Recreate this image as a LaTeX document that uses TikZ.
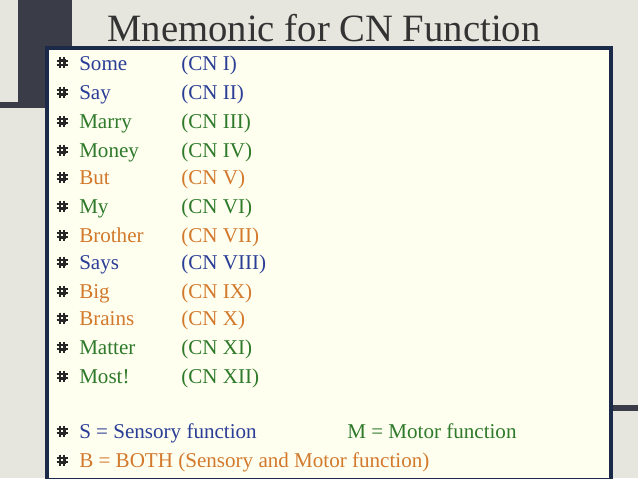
\documentclass[tikz,border=0pt]{standalone}
\usepackage{fontspec}
\setmainfont{Liberation Serif}
\definecolor{bg}{HTML}{E6E6DE}
\definecolor{navy}{HTML}{1C2A4A}
\definecolor{bar}{HTML}{3A3D48}
\definecolor{cream}{HTML}{FFFFF0}
\definecolor{cblue}{HTML}{2B3E96}
\definecolor{cgreen}{HTML}{2E7A2A}
\definecolor{corange}{HTML}{D2792C}
\definecolor{titlec}{HTML}{333333}
\tikzset{
  txt/.style={anchor=base west,font=\fontsize{15.8}{18}\selectfont,inner sep=0pt},
  bul/.pic={\fill[black!85] (-3.5,-3.5) rectangle (3.5,3.5);
            \draw[black!85,line width=1.2pt] (-5.5,-2)--(5.5,-2) (-5.5,2)--(5.5,2) (-2,-5.5)--(-2,5.5) (2,-5.5)--(2,5.5);
            \fill[cream] (-1.2,-1.2) rectangle (1.2,1.2);}
}
\begin{document}
\begin{tikzpicture}[x=0.75pt,y=-0.75pt]
\useasboundingbox (0,0) rectangle (638,478);
\fill[bg] (0,0) rectangle (638,478);
\fill[bar] (18,0) rectangle (72,105);
\fill[bar] (0,102) rectangle (45,108);
\fill[bar] (612,405) rectangle (638,411);
\draw[navy,line width=3pt,fill=cream] (46.5,48.5) rectangle (610.5,480);
\node[font=\fontsize{29}{32}\selectfont,text=titlec,inner sep=0pt,anchor=base] (title) at (324,42) {Mnemonic for CN Function};
\foreach \y/\w/\c/\cc/\n in {63/Some/CN I/cblue/a,92/Say/CN II/cblue/b,121/Marry/CN III/cgreen/c,150/Money/CN IV/cgreen/d,177/But/CN V/corange/e,206/My/CN VI/cgreen/f,235/Brother/CN VII/corange/g,262/Says/CN VIII/cblue/h,291/Big/CN IX/corange/i,318/Brains/CN X/corange/j,347/Matter/CN XI/cgreen/k,376/Most!/CN XII/cgreen/l}{
  \pic at (62,\y) {bul};
  \node[txt,text=\cc] (w\n) at (79,\y+7) {\w};
  \node[txt,text=\cc] (n\n) at (181,\y+7) {(\c)};
}
\pic at (62,431) {bul};
\node[txt,text=cblue] (s) at (79,438) {S = Sensory function};
\node[txt,text=cgreen] (m) at (347,438) {M = Motor function};
\pic at (62,460) {bul};
\node[txt,text=corange] (b) at (79,467) {B = BOTH (Sensory and Motor function)};
\end{tikzpicture}
\end{document}
